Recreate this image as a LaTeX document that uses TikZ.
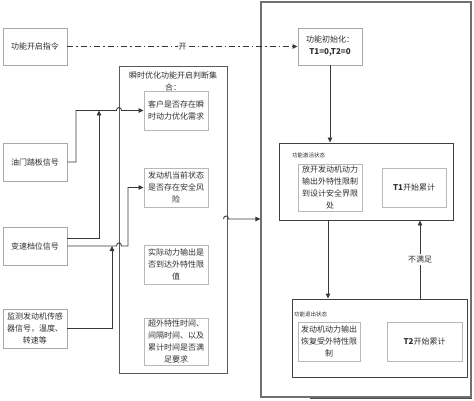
\documentclass[tikz,border=0pt]{standalone}
\usepackage{fontspec}
\setmainfont{Noto Sans CJK SC}
\usetikzlibrary{arrows.meta}
\definecolor{lightframe}{HTML}{A8A8A8}
\definecolor{innerframe}{HTML}{B8B8B8}
\definecolor{midframe}{HTML}{5A5A5A}
\definecolor{darkframe}{HTML}{404040}
\definecolor{outerframe}{HTML}{707070}
\definecolor{linecol}{HTML}{383838}
\definecolor{txtcol}{HTML}{303030}
\tikzset{
  inbox/.style={draw=lightframe, line width=0.9pt, fill=white, minimum width=64pt,
    align=center, font=\fontsize{8}{12}\selectfont, text=txtcol, inner sep=0pt},
  qbox/.style={draw=innerframe, line width=0.9pt, fill=white, minimum width=64pt,
    align=center, font=\fontsize{8}{12}\selectfont, text=txtcol, inner sep=0pt},
  groupbox/.style={draw=darkframe, line width=0.9pt, inner sep=0pt},
  smalllabel/.style={font=\fontsize{5.5}{7}\selectfont, text=txtcol, inner sep=0pt, anchor=west},
  conn/.style={draw=linecol, line width=0.9pt},
  tip/.style={-{Triangle[length=5pt,width=4.5pt]}},
  dashdot/.style={draw=linecol, line width=0.9pt, dash pattern=on 6pt off 3pt on 1.5pt off 3pt}
}
\begin{document}
\begin{tikzpicture}[x=1pt,y=-1pt]
\useasboundingbox (0,0) rectangle (474,401);
% outer frame
\node[draw=outerframe, line width=1.2pt, minimum width=210pt, minimum height=395pt, inner sep=0pt] (outer) at (366,199.5) {};
\draw[outerframe!70!black, line width=1.6pt] (310,398.5) -- (471.5,398.5);
% left inputs
\node[inbox, minimum height=37pt] (cmd) at (35,46.5) {功能开启指令};
\node[inbox, minimum height=38pt] (thr) at (35,162) {油门踏板信号};
\node[inbox, minimum height=38pt] (gear) at (35,246) {变速档位信号};
\node[inbox, minimum height=39pt] (sens) at (35,328.5) {监测发动机传感\\器信号，温度、\\转速等};
% judgement set
\node[draw=midframe, line width=0.9pt, minimum width=108pt, minimum height=307pt, inner sep=0pt] (jbox) at (173,219.5) {};
\node[font=\fontsize{8}{12}\selectfont, text=txtcol, align=center, inner sep=0pt] (jtitle) at (173,81) {瞬时优化功能开启判断集\\合：};
\node[qbox, minimum height=39pt] (q1) at (176,110.5) {客户是否存在瞬\\时动力优化需求};
\node[qbox, minimum height=39pt] (q2) at (176,187.5) {发动机当前状态\\是否存在安全风\\险};
\node[qbox, minimum height=39pt] (q3) at (176,264.5) {实际动力输出是\\否到达外特性限\\值};
\node[qbox, minimum height=47pt] (q4) at (176,341.5) {超外特性时间、\\间隔时间、以及\\累计时间是否满\\足要求};
% right side
\node[inbox, minimum height=37pt] (init) at (330,46.5) {功能初始化：\\\textbf{T1=0,T2=0}};
\node[groupbox, minimum width=174pt, minimum height=77pt] (act) at (366,181.5) {};
\node[smalllabel] (actlabel) at (292,155) {功能激活状态};
\node[qbox, minimum height=47pt] (act1) at (330,187.5) {放开发动机动力\\输出外特性限制\\到设计安全界限\\处};
\node[qbox, minimum height=39pt] (act2) at (414,187.5) {\textbf{T1}开始累计};
\node[groupbox, minimum width=175pt, minimum height=78pt] (exit) at (379.5,338) {};
\node[smalllabel] (exitlabel) at (294,314) {功能退出状态};
\node[qbox, minimum width=62pt, minimum height=39pt] (ex1) at (329,341.5) {发动机动力输出\\恢复受外特性限\\制};
\node[qbox, minimum width=75pt, minimum height=39pt] (ex2) at (424.5,341.5) {\textbf{T2}开始累计};
% connectors
\draw[dashdot, tip] (cmd.east) -- node[fill=white, inner sep=1pt, font=\fontsize{8}{10}\selectfont, text=txtcol] (open) {开} (init.west);
\draw[conn, tip] (thr.east) -- (76,162) -- (76,110.5) -- (116.5,110.5)
  .. controls (116.5,106.5) and (121.5,106.5) .. (121.5,110.5) -- (q1.west);
\draw[conn, tip] ([yshift=8pt]gear.east) -- (99,238) -- (99,110.5);
\draw[conn, tip] (gear.east) -- (116.5,246)
  .. controls (116.5,242) and (121.5,242) .. (121.5,246) -- (128,246) -- (128,187.5) -- (q2.west);
\draw[conn, tip] (sens.east) -- (112,328.5) -- (112,246);
\draw[conn, tip] (223.5,219) .. controls (223.5,215) and (228.5,215) .. (228.5,219) -- (outer.west |- 0,219);
\draw[conn, tip] (init.south) -- (init.south |- act.north);
\draw[conn, tip] (act.south -| 328,0) -- (exit.north -| 328,0);
\draw[conn, tip] (exit.north -| 420,0) -- node[fill=white, inner sep=1.5pt, font=\fontsize{8}{10}\selectfont, text=txtcol] (nosat) {不满足} (act.south -| 420,0);
\end{tikzpicture}
\end{document}
